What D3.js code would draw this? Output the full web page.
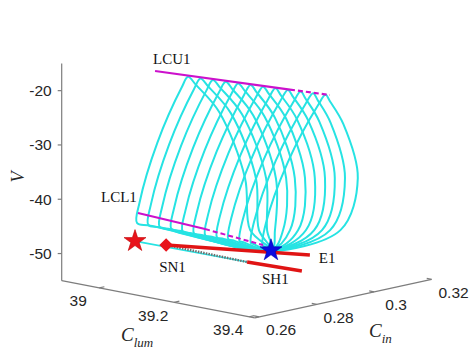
<!DOCTYPE html>
<html><head><meta charset="utf-8">
<script src="https://cdn.jsdelivr.net/npm/d3@7"></script>
<style>body{margin:0;background:#fff}svg{display:block}</style>
</head><body>
<svg id="c" width="474" height="355"></svg>
<script>
// ---- axis data ----
const clumDomain = [38.9, 39.415];
const cinDomain = [0.2585, 0.32];
const vDomain = [-55, -15];
const clumTicks = [39, 39.2, 39.4];
const cinTicks = [0.26, 0.28, 0.3, 0.32];
const vTicks = [-50, -40, -30, -20];

// ---- limit cycle family (one loop per Cin value) ----
const loopCin    = [0.283, 0.2855, 0.288, 0.2905, 0.293, 0.2955, 0.298, 0.3005, 0.303, 0.3055, 0.308, 0.3105];
const peakClum   = [39.049, 39.063, 39.077, 39.092, 39.106, 39.120, 39.134, 39.148, 39.162, 39.177, 39.191, 39.205];
const peakV      = [-18.3, -18.7, -19.1, -19.5, -19.9, -20.3, -20.7, -21.1, -21.5, -21.9, -22.3, -22.7];
const bulgeClum  = [39.201, 39.211, 39.219, 39.226, 39.234, 39.238, 39.246, 39.253, 39.261, 39.268, 39.276, 39.291];
const bulgeV     = [-34.9, -35.1, -35.3, -35.5, -35.6, -35.9, -36.0, -36.2, -36.4, -36.6, -36.8, -36.9];
const troughClum = [38.913, 38.924, 38.935, 38.947, 38.958, 38.969, 38.980, 38.992, 39.003, 39.014, 39.025, 39.037];
const troughV    = [-47.0, -47.5, -48.0, -48.5, -49.1, -49.6, -50.1, -50.6, -51.1, -51.6, -52.1, -52.6];

// ---- special points and branches (Clum, Cin, V) ----
const sh1 = [39.14, 0.30, -51];
const sn1 = [39.052, 0.275, -48.3];
const redStar = [38.969, 0.275, -48.7];
const lcu1Solid  = [[39.011, 0.2765, -16.98], [39.1646, 0.3034, -21.45]];
const lcu1Dashed = [[39.1646, 0.3034, -21.45], [39.209, 0.3115, -22.8]];
const lcl1Solid  = [[38.9156, 0.283, -45.14], [38.981, 0.2978, -48.93]];
const lcl1Dashed = [[38.981, 0.2978, -48.93], [39.036, 0.3108, -52.64]];
const e1Branch   = [[39.052, 0.275, -48.3], [39.167, 0.31, -52.65]];
const unstableBranch = [[39.052, 0.275, -48.3], [39.153, 0.29, -51.83]];
const lowerBranch    = [[39.153, 0.29, -51.83], [39.184, 0.305, -54.8]];
const stableCyan     = [[38.969, 0.275, -48.7], [39.153, 0.29, -51.83]];

// ---- projection built from linear scales ----
const kx = d3.scaleLinear().domain(clumDomain).range([0, 1]);
const ky = d3.scaleLinear().domain(cinDomain).range([0, 1]);
const kz = d3.scaleLinear().domain(vDomain).range([0, 1]);
const O = [61.7, 280.7], EX = [193.1, 37.1], EY = [176.8, -38.4], EZ = [0, -217.2];
function P(c, n, v) {
  const a = kx(c), b = ky(n), z = kz(v);
  return [O[0] + a*EX[0] + b*EY[0] + z*EZ[0], O[1] + a*EX[1] + b*EY[1] + z*EZ[1]];
}
const Pt = d => P(d[0], d[1], d[2]);

const svg = d3.select('#c');
svg.append('rect').attr('width', 474).attr('height', 355).attr('fill', '#fff');

const axisCol = '#7d7d7d', textCol = '#262626';
const sansFont = '"Liberation Sans", Arial, sans-serif';
const serifFont = '"Liberation Serif", "Times New Roman", serif';
const c0 = clumDomain[0], c1 = clumDomain[1], n0 = cinDomain[0], n1 = cinDomain[1], v0 = vDomain[0], v1 = vDomain[1];
const seg = (a, b) => svg.append('line').attr('x1', a[0]).attr('y1', a[1]).attr('x2', b[0]).attr('y2', b[1])
  .attr('stroke', axisCol).attr('stroke-width', 1.2);

// axes
seg(P(c0, n0, v0), P(c0, n0, v1));
seg(P(c0, n0, v0), P(c1, n0, v0));
seg(P(c1, n0, v0), P(c1, n1, v0));

// V ticks
vTicks.forEach(v => {
  const p = P(c0, n0, v);
  seg(p, [p[0] - 4, p[1]]);
  svg.append('text').attr('x', p[0] - 10).attr('y', p[1] + 5.5).attr('text-anchor', 'end')
    .attr('font-family', sansFont).attr('font-size', 15.5).attr('fill', textCol).text(v);
});
// Clum ticks
clumTicks.forEach(c => {
  const p = P(c, n0, v0), q = P(c, n0 + 0.0018, v0);
  seg(p, q);
  svg.append('text').attr('x', p[0] - 21).attr('y', p[1] + 18.5).attr('text-anchor', 'middle')
    .attr('font-family', sansFont).attr('font-size', 15.5).attr('fill', textCol).text(c);
});
// Cin ticks
cinTicks.forEach(n => {
  const p = P(c1, n, v0), q = P(c1 - 0.013, n, v0);
  seg(p, q);
  svg.append('text').attr('x', p[0] + 22).attr('y', p[1] + 18.5).attr('text-anchor', 'middle')
    .attr('font-family', sansFont).attr('font-size', 15.5).attr('fill', textCol).text(n);
});

// axis titles
svg.append('text').attr('transform', 'translate(24,177) rotate(-90)').attr('text-anchor', 'middle')
  .attr('font-family', serifFont).attr('font-style', 'italic').attr('font-size', 18).attr('fill', textCol).text('V');
const tl = svg.append('text').attr('x', 121).attr('y', 341).attr('font-family', serifFont)
  .attr('font-style', 'italic').attr('font-size', 19).attr('fill', textCol);
tl.append('tspan').text('C');
tl.append('tspan').attr('font-size', 13).attr('dy', 6).text('lum');
const ti = svg.append('text').attr('x', 369).attr('y', 337).attr('font-family', serifFont)
  .attr('font-style', 'italic').attr('font-size', 19).attr('fill', textCol);
ti.append('tspan').text('C');
ti.append('tspan').attr('font-size', 13).attr('dy', 6).text('in');

// limit cycles
const closed = d3.line().curve(d3.curveCatmullRomClosed.alpha(0.5));
const L = (u, w, fx, fy) => [u[0] + fx*(w[0]-u[0]), u[1] + fy*(w[1]-u[1])];
const sp = Pt(sh1);
loopCin.forEach((n, k) => {
  const p = P(peakClum[k], n, peakV[k]);
  const r = P(bulgeClum[k], n, bulgeV[k]);
  const b = P(troughClum[k], n, troughV[k]);
  const pts = [p, L(p, r, 0.14, 0.08), L(p, r, 0.55, 0.35), r, L(r, sp, 0.2, 0.72), sp,
               L(b, sp, 0.1, 0.1), b, L(b, p, 0.05, 0.14), L(b, p, 0.4, 0.55), L(p, b, 0.12, 0.07)];
  svg.append('path').attr('d', closed(pts)).attr('fill', 'none')
    .attr('stroke', '#26e3e3').attr('stroke-width', 2).attr('stroke-linejoin', 'round');
});

const open = d3.line();
const drawLine = (data, col, w, dash) => {
  const e = svg.append('path').attr('d', open(data.map(Pt))).attr('fill', 'none')
    .attr('stroke', col).attr('stroke-width', w).attr('stroke-linecap', 'butt');
  if (dash) e.attr('stroke-dasharray', dash);
  return e;
};

// stable cyan branch from red star
drawLine(stableCyan, '#26e3e3', 1.6);
// LCU1 and LCL1
const mag = '#cc11cc';
drawLine(lcu1Solid, mag, 2.2);
drawLine(lcu1Dashed, mag, 2.2, '5,3');
drawLine(lcl1Solid, mag, 2);
drawLine(lcl1Dashed, mag, 2, '5,3');
// equilibrium branches
drawLine(unstableBranch, '#6e6e6e', 2.4, '1.5,1.2');
drawLine(lowerBranch, '#e01414', 3.5);
drawLine(e1Branch, '#e01414', 3.5);

// markers
const star = d3.symbol().type(d3.symbolStar).size(150)();
const rs = Pt(redStar);
svg.append('path').attr('d', star).attr('transform', `translate(${rs[0]},${rs[1]})`)
  .attr('fill', '#e8131b').attr('stroke', '#c00000').attr('stroke-width', 0.6);
const sn = Pt(sn1);
svg.append('path').attr('d', d3.symbol().type(d3.symbolSquare).size(92)())
  .attr('transform', `translate(${sn[0]},${sn[1]}) rotate(45)`).attr('fill', '#e8131b');
svg.append('path').attr('d', star).attr('transform', `translate(${sp[0]},${sp[1]})`)
  .attr('fill', '#0b0be0').attr('stroke', '#0000b0').attr('stroke-width', 0.6);

// labels
const lab = (txt, pt, dx, dy) => svg.append('text').attr('x', pt[0] + dx).attr('y', pt[1] + dy)
  .attr('font-family', serifFont).attr('font-size', 15).attr('fill', '#111').text(txt);
lab('LCU1', Pt(lcu1Solid[0]), -2, -7);
lab('LCL1', Pt(lcl1Solid[0]), -37, -11);
lab('SN1', sn, -7, 27);
lab('SH1', sp, -9, 34);
lab('E1', Pt(e1Branch[1]), 9, 8);
</script>
</body></html>
